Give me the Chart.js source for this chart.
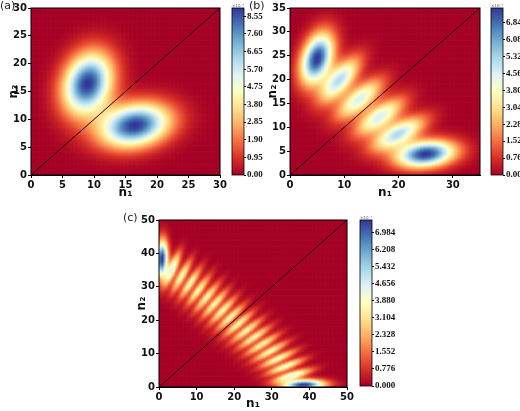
<!DOCTYPE html>
<html>
<head>
<meta charset="utf-8">
<script src="https://cdn.jsdelivr.net/npm/chart.js@4.4.0/dist/chart.umd.min.js"></script>
<style>
  body { margin: 0; background: #fff; width: 520px; height: 411px; position: relative; overflow: hidden; }
  canvas { position: absolute; }
  .lbl { position: absolute; font: 11px "DejaVu Sans", sans-serif; color: #222; }
</style>
</head>
<body>
<canvas id="ca" width="228" height="200" style="left:0;top:0"></canvas>
<canvas id="cba" width="50" height="200" style="left:228px;top:0"></canvas>
<canvas id="cb" width="225" height="200" style="left:262px;top:0"></canvas>
<canvas id="cbb" width="50" height="200" style="left:487px;top:0"></canvas>
<canvas id="cc" width="225" height="199" style="left:130px;top:212px"></canvas>
<canvas id="cbc" width="50" height="199" style="left:356px;top:212px"></canvas>
<div class="lbl" style="left:0;top:-1px">(a)</div>
<div class="lbl" style="left:249px;top:-1px">(b)</div>
<div class="lbl" style="left:123px;top:211px">(c)</div>
<script>
// peaks: centre n1, centre n2, height (x1e-3), long / short spread, tilt (deg)
const peaksA_n1 = [9, 16.5];
const peaksA_n2 = [16.5, 9];
const peaksA_amp = [9.0, 9.0];
const peaksA_long = [3.9, 3.9];
const peaksA_short = [2.6, 2.6];
const peaksA_tilt = [75, 15];

const peaksB_n1 = [5, 9.2, 12.8, 16.5, 20, 25];
const peaksB_n2 = [24.5, 20, 16, 12.3, 8.8, 4.5];
const peaksB_amp = [7.5, 5.0, 4.5, 4.5, 5.0, 7.5];
const peaksB_long = [3.8, 3.8, 3.8, 3.8, 3.8, 3.8];
const peaksB_short = [1.9, 1.55, 1.55, 1.55, 1.55, 1.9];
const peaksB_tilt = [75, 55, 45, 40, 32, 8];

const peaksC_n1 = [0.8, 3.6, 6, 8.3, 10.5, 12.7, 14.8, 16.9, 19, 21.1, 23.2, 25.3, 27.4, 29.5, 31.6, 33.6, 35.6, 38.5];
const peaksC_n2 = [38.5, 35.6, 33.3, 31.2, 29.1, 27, 25, 23, 21, 19, 17, 15, 12.9, 10.8, 8.6, 6.3, 3.7, 0.8];
const peaksC_amp = [7.5, 4.3, 3.7, 3.6, 3.5, 3.5, 3.5, 3.5, 3.5, 3.5, 3.5, 3.5, 3.5, 3.6, 3.7, 3.9, 4.3, 7.5];
const peaksC_long = [3.9, 3.6, 3.7, 3.7, 3.7, 3.7, 3.7, 3.7, 3.7, 3.7, 3.7, 3.7, 3.7, 3.7, 3.7, 3.7, 3.6, 3.9];
const peaksC_short = [1.1, 0.85, 0.8, 0.8, 0.8, 0.8, 0.8, 0.8, 0.8, 0.8, 0.8, 0.8, 0.8, 0.8, 0.8, 0.8, 0.85, 1.1];
const peaksC_tilt = [88, 70, 64, 60, 57, 54, 52, 50, 47, 44, 41, 38, 35, 32, 28, 24, 18, 2];

// axis and colourbar ticks
const axisA = [0, 5, 10, 15, 20, 25, 30];
const axisBx = [0, 10, 20, 30];
const axisBy = [0, 5, 10, 15, 20, 25, 30, 35];
const axisC = [0, 10, 20, 30, 40, 50];
const ticksA = [0.00, 0.95, 1.90, 2.85, 3.80, 4.75, 5.70, 6.65, 7.60, 8.55];
const ticksB = [0.00, 0.76, 1.52, 2.28, 3.04, 3.80, 4.56, 5.32, 6.08, 6.84];
const ticksC = [0.000, 0.776, 1.552, 2.328, 3.104, 3.880, 4.656, 5.432, 6.208, 6.984];

// RdYlBu reversed
const cmap = [[165,0,38],[215,48,39],[244,109,67],[253,174,97],[254,224,144],[255,255,191],
              [224,243,248],[171,217,233],[116,173,209],[69,117,180],[49,54,149]];
function colorAt(t) {
    t = Math.max(0, Math.min(1, t)) * (cmap.length - 1);
    const i = Math.min(Math.floor(t), cmap.length - 2), f = t - i;
    const a = cmap[i], b = cmap[i + 1];
    return 'rgb(' + [0,1,2].map(k => Math.round(a[k] + (b[k] - a[k]) * f)).join(',') + ')';
}

function valueAt(p, x, y) {
    let v = 0;
    for (let i = 0; i < p.n1.length; i++) {
        const th = p.tilt[i] * Math.PI / 180;
        const dx = x - p.n1[i], dy = y - p.n2[i];
        const u = dx * Math.cos(th) + dy * Math.sin(th);
        const w = -dx * Math.sin(th) + dy * Math.cos(th);
        v += p.amp[i] * Math.exp(-(u * u) / (2 * p.long[i] ** 2) - (w * w) / (2 * p.short[i] ** 2));
    }
    return v;
}

const tickFont = { family: 'DejaVu Sans', size: 10, weight: 'bold' };

function heatChart(id, peaks, xMax, yMax, xTicks, yTicks, vMax, pad) {
    const heat = {
        id: 'heat',
        beforeDatasetsDraw(chart) {
            const { ctx, chartArea: a, scales: { x, y } } = chart;
            const step = xMax / 140;
            ctx.save();
            ctx.beginPath(); ctx.rect(a.left, a.top, a.right - a.left, a.bottom - a.top); ctx.clip();
            for (let gx = 0; gx < xMax; gx += step) {
                for (let gy = 0; gy < yMax; gy += step) {
                    const v = valueAt(peaks, gx + step / 2, gy + step / 2);
                    ctx.fillStyle = colorAt(v / vMax);
                    const px0 = x.getPixelForValue(gx), px1 = x.getPixelForValue(gx + step);
                    const py0 = y.getPixelForValue(gy + step), py1 = y.getPixelForValue(gy);
                    ctx.fillRect(px0, py0, px1 - px0 + 0.6, py1 - py0 + 0.6);
                }
            }
            ctx.restore();
        },
        afterDraw(chart) {
            const { ctx, chartArea: a } = chart;
            ctx.save();
            ctx.strokeStyle = '#000'; ctx.lineWidth = 1;
            ctx.strokeRect(a.left, a.top, a.right - a.left, a.bottom - a.top);
            ctx.restore();
        }
    };
    const axis = (max, ticks, title) => ({
        type: 'linear', min: 0, max: max,
        afterBuildTicks: s => { s.ticks = ticks.map(v => ({ value: v })); },
        ticks: { color: '#111', font: tickFont, padding: 1 },
        grid: { drawOnChartArea: false, tickLength: 3, color: '#000' },
        border: { color: '#000' },
        title: { display: true, text: title, color: '#111', padding: 0,
                 font: { family: 'DejaVu Sans', size: 12, weight: 'bold' } }
    });
    const xs = axis(xMax, xTicks, 'n₁');
    xs.afterFit = s => { s.height = pad.xh; };
    const ys = axis(yMax, yTicks, 'n₂');
    ys.afterFit = s => { s.width = 24; };
    new Chart(document.getElementById(id), {
        type: 'scatter',
        data: { datasets: [{
            data: [{ x: 0, y: 0 }, { x: Math.min(xMax, yMax), y: Math.min(xMax, yMax) }],
            showLine: true, borderColor: '#2a0008', borderWidth: 1, pointRadius: 0
        }] },
        options: {
            responsive: false, animation: false,
            layout: { padding: { left: pad.l, right: 7, top: 8, bottom: 0 } },
            plugins: { legend: { display: false }, tooltip: { enabled: false } },
            scales: { x: xs, y: ys }
        },
        plugins: [heat]
    });
}

function colorBar(id, ticks, vMax, digits) {
    const bar = {
        id: 'bar',
        beforeDatasetsDraw(chart) {
            const { ctx, chartArea: a } = chart;
            const g = ctx.createLinearGradient(0, a.bottom, 0, a.top);
            cmap.forEach((c, i) => g.addColorStop(i / (cmap.length - 1), colorAt(i / (cmap.length - 1))));
            ctx.save();
            ctx.fillStyle = g;
            ctx.fillRect(a.left, a.top, a.right - a.left, a.bottom - a.top);
            ctx.strokeStyle = '#000'; ctx.lineWidth = 0.8;
            ctx.strokeRect(a.left, a.top, a.right - a.left, a.bottom - a.top);
            ctx.font = '4px DejaVu Sans'; ctx.fillStyle = '#555';
            ctx.fillText('×10⁻³', a.left, a.top - 1);
            ctx.restore();
        }
    };
    new Chart(document.getElementById(id), {
        type: 'scatter',
        data: { datasets: [] },
        options: {
            responsive: false, animation: false,
            layout: { padding: { left: 4, right: 0, top: 8, bottom: 25 } },
            plugins: { legend: { display: false }, tooltip: { enabled: false } },
            scales: {
                x: { display: false, min: 0, max: 1 },
                y: {
                    position: 'right', min: 0, max: vMax,
                    afterBuildTicks: s => { s.ticks = ticks.map(v => ({ value: v })); },
                    afterFit: s => { s.width = 34; },
                    ticks: { color: '#111', font: { family: 'Liberation Serif', size: 9, weight: 'bold' },
                             padding: 1, callback: v => v.toFixed(digits) },
                    grid: { drawOnChartArea: false, tickLength: 2, color: '#000' },
                    border: { display: false }
                }
            }
        },
        plugins: [bar]
    });
}

const pA = { n1: peaksA_n1, n2: peaksA_n2, amp: peaksA_amp, long: peaksA_long, short: peaksA_short, tilt: peaksA_tilt };
const pB = { n1: peaksB_n1, n2: peaksB_n2, amp: peaksB_amp, long: peaksB_long, short: peaksB_short, tilt: peaksB_tilt };
const pC = { n1: peaksC_n1, n2: peaksC_n2, amp: peaksC_amp, long: peaksC_long, short: peaksC_short, tilt: peaksC_tilt };

heatChart('ca', pA, 30, 30, axisA, axisA, 9.0, { l: 7, xh: 25 });
colorBar('cba', ticksA, 9.0, 2);
heatChart('cb', pB, 35, 35, axisBx, axisBy, 7.5, { l: 4, xh: 25 });
colorBar('cbb', ticksB, 7.5, 2);
heatChart('cc', pC, 50, 50, axisC, axisC, 7.55, { l: 5, xh: 24 });
colorBar('cbc', ticksC, 7.55, 3);
</script>
</body>
</html>
